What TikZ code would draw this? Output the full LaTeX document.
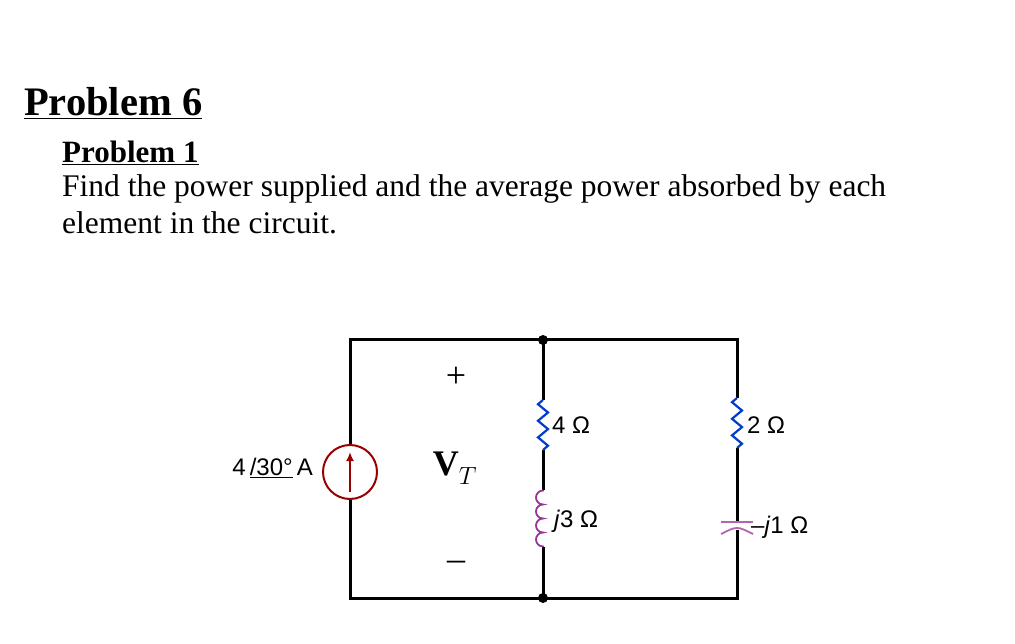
\documentclass[tikz,border=0pt]{standalone}
\usetikzlibrary{calc,arrows.meta}
\usepackage{fontspec}
\setmainfont{Liberation Serif}
\newfontfamily\arial{Liberation Sans}
\begin{document}
\begin{tikzpicture}[x=1pt,y=-1pt,
  wire/.style={line width=3pt},
  lbl/.style={font=\arial\fontsize{24}{28}\selectfont, inner sep=1pt},
  res/.style={blue!70!cyan!80!black,line width=2.2pt},
  txt/.style={anchor=base west, inner sep=0pt}]
\useasboundingbox (0,0) rectangle (1015,644);
% text
\node[txt,font=\bfseries\fontsize{40.5}{46}\selectfont] (p6) at (24,116) {\underline{Problem 6}};
\node[txt,font=\bfseries\fontsize{31}{36}\selectfont] (p1) at (62,163) {\underline{Problem 1}};
\node[txt,font=\fontsize{31.5}{36}\selectfont] (l1) at (62,197) {Find the power supplied and the average power absorbed by each};
\node[txt,font=\fontsize{31.5}{36}\selectfont] (l2) at (62,234) {element in the circuit.};
% coordinates
\coordinate (tl) at (350,340); \coordinate (tm) at (543,340); \coordinate (tr) at (737,340);
\coordinate (bl) at (350,598); \coordinate (bm) at (543,598); \coordinate (br) at (737,598);
\coordinate (r1a) at (543,400); \coordinate (r1b) at (543,450);
\coordinate (l1a) at (543,490); \coordinate (l1b) at (543,547);
\coordinate (r2a) at (737,398); \coordinate (r2b) at (737,448);
\coordinate (c1a) at (737,522); \coordinate (c1b) at (737,530);
\node[circle,draw=red!60!black,line width=2pt,minimum size=54pt,inner sep=0pt] (src) at (350,472) {};
% wires
\draw[wire] (src.north) -- (tl) -- (tr) -- (r2a);
\draw[wire] (src.south) -- (bl) -- (br) -- (c1b);
\draw[wire] (tm) -- (r1a); \draw[wire] (r1b) -- (l1a); \draw[wire] (l1b) -- (bm);
\draw[wire] (r2b) -- (c1a);
\fill (tm) circle (5pt); \fill (bm) circle (5pt);
% resistors
\draw[res] (r1a) -- ++(-5,4.2) -- ++(10,8.3) -- ++(-10,8.3) -- ++(10,8.3) -- ++(-10,8.3) -- ++(10,8.3) -- (r1b);
\draw[res] (r2a) -- ++(-5,4.2) -- ++(10,8.3) -- ++(-10,8.3) -- ++(10,8.3) -- ++(-10,8.3) -- ++(10,8.3) -- (r2b);
% inductor
\draw[violet!80,line width=1.8pt] (l1a) -- ++(0,0.5)
  arc[start angle=-90,end angle=-270,radius=7] arc[start angle=-90,end angle=-270,radius=7]
  arc[start angle=-90,end angle=-270,radius=7] arc[start angle=-90,end angle=-270,radius=7] -- (l1b);
% capacitor
\draw[violet!60,line width=1.8pt] ($(c1a)+(-16,0)$) -- ++(32,0);
\draw[violet!60,line width=1.8pt] ($(c1b)+(-16,4)$) .. controls ($(c1b)+(0,-4)$) .. ($(c1b)+(16,4)$);
% source arrow
\draw[red!60!black,line width=2pt,-{Latex[length=9pt,width=8pt]}] ($(src)+(0,20)$) -- ($(src)+(0,-20)$);
% labels
\node[lbl,anchor=east] (sl) at (314,468) {4\,\underline{/30°}\,A};
\node[lbl,anchor=west] (r1l) at (551,425) {4 Ω};
\node[lbl,anchor=west] (r2l) at (746,425) {2 Ω};
\node[lbl,anchor=west] (l1l) at (553,521) {\textit{j}3 Ω};
\node[lbl,anchor=west] (c1l) at (750,527) {–\textit{j}1 Ω};
\node[font=\fontsize{36}{40}\selectfont] (pl) at (456,377) {+};
\node[font=\fontsize{36}{40}\selectfont] (vt) at (455,468) {$\mathbf{V}_{T}$};
\node[font=\fontsize{36}{40}\selectfont] (mi) at (456,566) {–};
\end{tikzpicture}
\end{document}
